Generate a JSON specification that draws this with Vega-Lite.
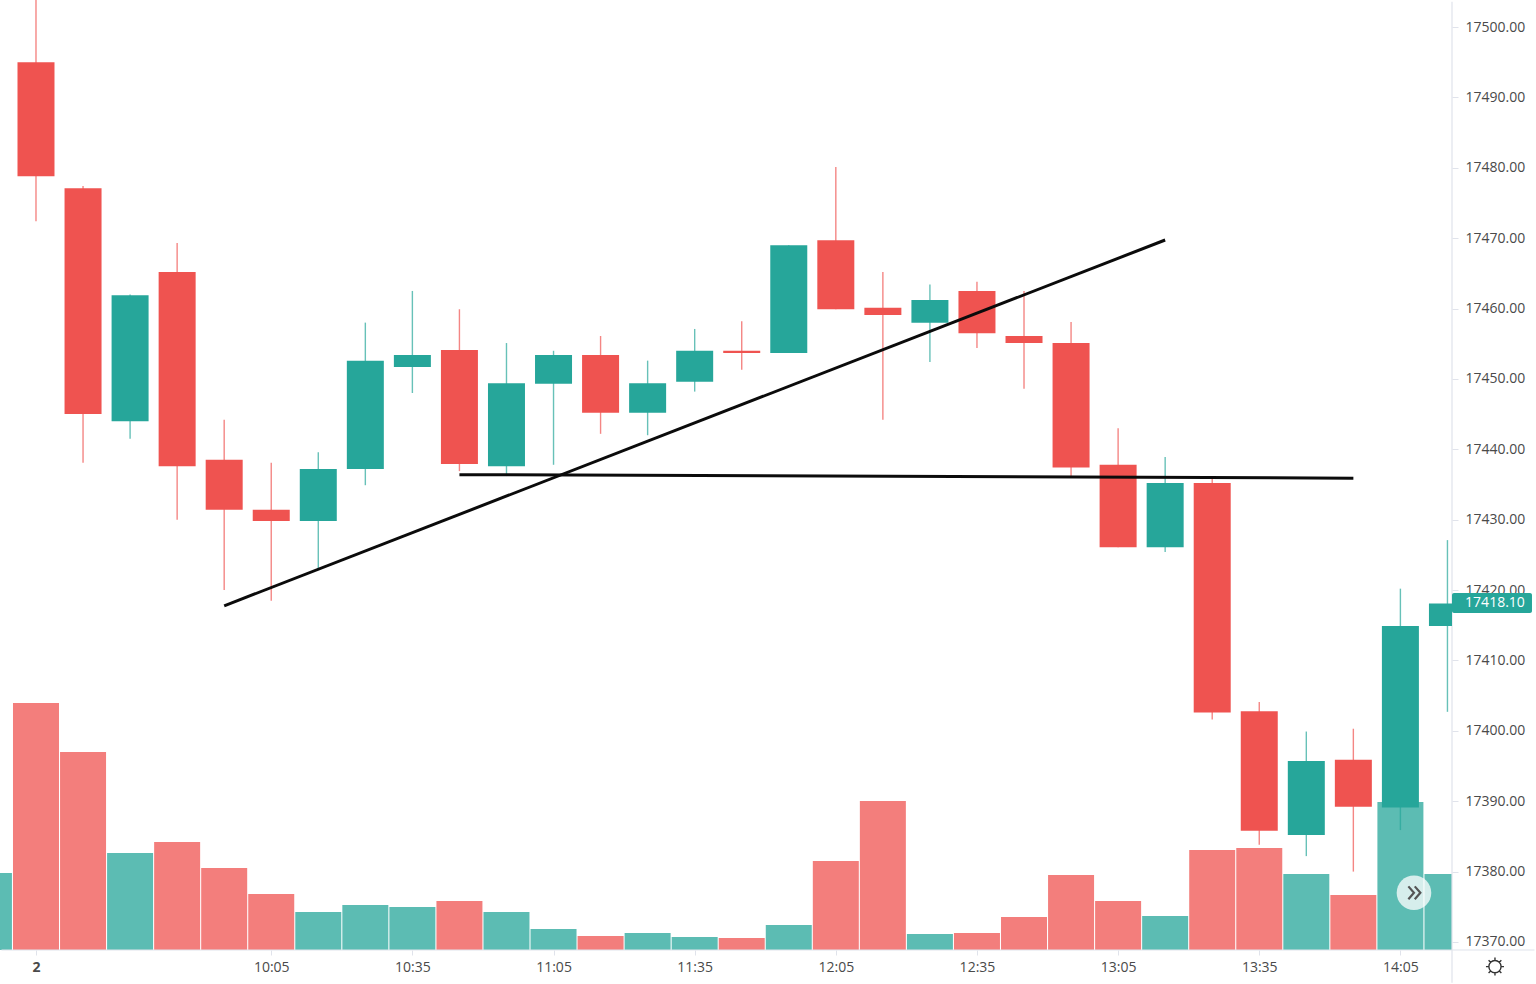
{
  "$schema": "https://vega.github.io/schema/vega-lite/v6.json",
  "width": 1452,
  "height": 950,
  "padding": 0,
  "background": "white",
  "view": {"stroke": null},
  "config": {"font": "Open Sans"},
  "datasets": {
    "candles": [
      {"time": "2021-02-02T09:15:00Z", "open": 17495.0, "close": 17478.8, "high": 17505.0, "low": 17472.4, "dir": "down"},
      {"time": "2021-02-02T09:25:00Z", "open": 17477.1, "close": 17445.0, "high": 17477.4, "low": 17438.1, "dir": "down"},
      {"time": "2021-02-02T09:35:00Z", "open": 17444.0, "close": 17461.9, "high": 17462.0, "low": 17441.5, "dir": "up"},
      {"time": "2021-02-02T09:45:00Z", "open": 17465.2, "close": 17437.6, "high": 17469.3, "low": 17430.0, "dir": "down"},
      {"time": "2021-02-02T09:55:00Z", "open": 17438.5, "close": 17431.4, "high": 17444.2, "low": 17420.0, "dir": "down"},
      {"time": "2021-02-02T10:05:00Z", "open": 17431.4, "close": 17429.8, "high": 17438.1, "low": 17418.5, "dir": "down"},
      {"time": "2021-02-02T10:15:00Z", "open": 17429.8, "close": 17437.2, "high": 17439.6, "low": 17422.9, "dir": "up"},
      {"time": "2021-02-02T10:25:00Z", "open": 17437.2, "close": 17452.6, "high": 17458.0, "low": 17434.9, "dir": "up"},
      {"time": "2021-02-02T10:35:00Z", "open": 17451.7, "close": 17453.4, "high": 17462.5, "low": 17448.0, "dir": "up"},
      {"time": "2021-02-02T10:45:00Z", "open": 17454.1, "close": 17437.9, "high": 17459.9, "low": 17436.9, "dir": "down"},
      {"time": "2021-02-02T10:55:00Z", "open": 17437.6, "close": 17449.4, "high": 17455.1, "low": 17436.2, "dir": "up"},
      {"time": "2021-02-02T11:05:00Z", "open": 17449.3, "close": 17453.4, "high": 17454.0, "low": 17437.8, "dir": "up"},
      {"time": "2021-02-02T11:15:00Z", "open": 17453.4, "close": 17445.2, "high": 17456.1, "low": 17442.2, "dir": "down"},
      {"time": "2021-02-02T11:25:00Z", "open": 17445.2, "close": 17449.4, "high": 17452.6, "low": 17442.0, "dir": "up"},
      {"time": "2021-02-02T11:35:00Z", "open": 17449.6, "close": 17454.0, "high": 17457.1, "low": 17448.2, "dir": "up"},
      {"time": "2021-02-02T11:45:00Z", "open": 17454.0, "close": 17453.7, "high": 17458.2, "low": 17451.3, "dir": "down"},
      {"time": "2021-02-02T11:55:00Z", "open": 17453.7, "close": 17469.0, "high": 17469.0, "low": 17453.7, "dir": "up"},
      {"time": "2021-02-02T12:05:00Z", "open": 17469.7, "close": 17459.9, "high": 17480.1, "low": 17459.9, "dir": "down"},
      {"time": "2021-02-02T12:15:00Z", "open": 17460.1, "close": 17459.1, "high": 17465.2, "low": 17444.2, "dir": "down"},
      {"time": "2021-02-02T12:25:00Z", "open": 17458.0, "close": 17461.2, "high": 17463.4, "low": 17452.4, "dir": "up"},
      {"time": "2021-02-02T12:35:00Z", "open": 17462.5, "close": 17456.5, "high": 17463.8, "low": 17454.4, "dir": "down"},
      {"time": "2021-02-02T12:45:00Z", "open": 17456.1, "close": 17455.1, "high": 17462.5, "low": 17448.6, "dir": "down"},
      {"time": "2021-02-02T12:55:00Z", "open": 17455.1, "close": 17437.4, "high": 17458.1, "low": 17436.2, "dir": "down"},
      {"time": "2021-02-02T13:05:00Z", "open": 17437.8, "close": 17426.1, "high": 17443.0, "low": 17426.1, "dir": "down"},
      {"time": "2021-02-02T13:15:00Z", "open": 17426.1, "close": 17435.2, "high": 17438.9, "low": 17425.4, "dir": "up"},
      {"time": "2021-02-02T13:25:00Z", "open": 17435.2, "close": 17402.6, "high": 17436.1, "low": 17401.6, "dir": "down"},
      {"time": "2021-02-02T13:35:00Z", "open": 17402.8, "close": 17385.8, "high": 17404.1, "low": 17383.8, "dir": "down"},
      {"time": "2021-02-02T13:45:00Z", "open": 17385.2, "close": 17395.7, "high": 17399.9, "low": 17382.2, "dir": "up"},
      {"time": "2021-02-02T13:55:00Z", "open": 17395.9, "close": 17389.2, "high": 17400.3, "low": 17380.0, "dir": "down"},
      {"time": "2021-02-02T14:05:00Z", "open": 17389.1, "close": 17414.9, "high": 17420.2, "low": 17385.9, "dir": "up"},
      {"time": "2021-02-02T14:15:00Z", "open": 17414.9, "close": 17418.1, "high": 17427.1, "low": 17402.7, "dir": "up"}
    ],
    "volume": [
      {"time": "2021-02-02T09:05:00Z", "volume": 77, "dir": "up"},
      {"time": "2021-02-02T09:15:00Z", "volume": 247, "dir": "down"},
      {"time": "2021-02-02T09:25:00Z", "volume": 198, "dir": "down"},
      {"time": "2021-02-02T09:35:00Z", "volume": 97, "dir": "up"},
      {"time": "2021-02-02T09:45:00Z", "volume": 108, "dir": "down"},
      {"time": "2021-02-02T09:55:00Z", "volume": 82, "dir": "down"},
      {"time": "2021-02-02T10:05:00Z", "volume": 56, "dir": "down"},
      {"time": "2021-02-02T10:15:00Z", "volume": 38, "dir": "up"},
      {"time": "2021-02-02T10:25:00Z", "volume": 45, "dir": "up"},
      {"time": "2021-02-02T10:35:00Z", "volume": 43, "dir": "up"},
      {"time": "2021-02-02T10:45:00Z", "volume": 49, "dir": "down"},
      {"time": "2021-02-02T10:55:00Z", "volume": 38, "dir": "up"},
      {"time": "2021-02-02T11:05:00Z", "volume": 21, "dir": "up"},
      {"time": "2021-02-02T11:15:00Z", "volume": 14, "dir": "down"},
      {"time": "2021-02-02T11:25:00Z", "volume": 17, "dir": "up"},
      {"time": "2021-02-02T11:35:00Z", "volume": 13, "dir": "up"},
      {"time": "2021-02-02T11:45:00Z", "volume": 12, "dir": "down"},
      {"time": "2021-02-02T11:55:00Z", "volume": 25, "dir": "up"},
      {"time": "2021-02-02T12:05:00Z", "volume": 89, "dir": "down"},
      {"time": "2021-02-02T12:15:00Z", "volume": 149, "dir": "down"},
      {"time": "2021-02-02T12:25:00Z", "volume": 16, "dir": "up"},
      {"time": "2021-02-02T12:35:00Z", "volume": 17, "dir": "down"},
      {"time": "2021-02-02T12:45:00Z", "volume": 33, "dir": "down"},
      {"time": "2021-02-02T12:55:00Z", "volume": 75, "dir": "down"},
      {"time": "2021-02-02T13:05:00Z", "volume": 49, "dir": "down"},
      {"time": "2021-02-02T13:15:00Z", "volume": 34, "dir": "up"},
      {"time": "2021-02-02T13:25:00Z", "volume": 100, "dir": "down"},
      {"time": "2021-02-02T13:35:00Z", "volume": 102, "dir": "down"},
      {"time": "2021-02-02T13:45:00Z", "volume": 76, "dir": "up"},
      {"time": "2021-02-02T13:55:00Z", "volume": 55, "dir": "down"},
      {"time": "2021-02-02T14:05:00Z", "volume": 148, "dir": "up"},
      {"time": "2021-02-02T14:15:00Z", "volume": 76, "dir": "up"}
    ],
    "drawn": [
      {"time": "2021-02-02T09:55:00Z", "time2": "2021-02-02T13:15:00Z", "price": 17417.76, "price2": 17469.74},
      {"time": "2021-02-02T10:45:00Z", "time2": "2021-02-02T13:55:00Z", "price": 17436.4, "price2": 17435.9}
    ],
    "frame": [
      {"time": "2021-02-02T14:15:58Z", "time2": "2021-02-02T14:15:58Z", "price": 17503.6, "price2": 17364.2},
      {"time": "2021-02-02T09:07:40Z", "time2": "2021-02-02T14:33:30Z", "price": 17368.86, "price2": 17368.86}
    ]
  },
  "encoding": {
    "x": {
      "field": "time",
      "type": "temporal",
      "title": null,
      "scale": {
        "type": "utc",
        "nice": false,
        "padding": 0,
        "domain": [
          {"utc": true, "year": 2021, "month": 2, "date": 2, "hours": 9, "minutes": 7, "seconds": 21},
          {"utc": true, "year": 2021, "month": 2, "date": 2, "hours": 14, "minutes": 15, "seconds": 58}
        ]
      },
      "axis": {
        "values": [
          {"utc": true, "year": 2021, "month": 2, "date": 2, "hours": 9, "minutes": 15},
          {"utc": true, "year": 2021, "month": 2, "date": 2, "hours": 10, "minutes": 5},
          {"utc": true, "year": 2021, "month": 2, "date": 2, "hours": 10, "minutes": 35},
          {"utc": true, "year": 2021, "month": 2, "date": 2, "hours": 11, "minutes": 5},
          {"utc": true, "year": 2021, "month": 2, "date": 2, "hours": 11, "minutes": 35},
          {"utc": true, "year": 2021, "month": 2, "date": 2, "hours": 12, "minutes": 5},
          {"utc": true, "year": 2021, "month": 2, "date": 2, "hours": 12, "minutes": 35},
          {"utc": true, "year": 2021, "month": 2, "date": 2, "hours": 13, "minutes": 5},
          {"utc": true, "year": 2021, "month": 2, "date": 2, "hours": 13, "minutes": 35},
          {"utc": true, "year": 2021, "month": 2, "date": 2, "hours": 14, "minutes": 5}
        ],
        "labelExpr": "utchours(datum.value) == 9 ? '2' : utcFormat(datum.value, '%H:%M')",
        "labelFontWeight": {"expr": "utchours(datum.value) == 9 ? 'bold' : 'normal'"},
        "labelColor": "#4a4a4a",
        "labelFontSize": 14,
        "labelPadding": 5,
        "labelFlush": false,
        "labelOverlap": false,
        "grid": false,
        "domain": false,
        "tickColor": "#e0e3eb",
        "tickSize": 5
      }
    }
  },
  "layer": [
    {
      "data": {"name": "volume"},
      "mark": {"type": "bar", "width": 46, "opacity": 0.75, "clip": true},
      "encoding": {
        "y": {
          "field": "volume",
          "type": "quantitative",
          "stack": null,
          "axis": null,
          "scale": {"domain": [0, 950], "nice": false}
        },
        "color": {
          "field": "dir",
          "type": "nominal",
          "legend": null,
          "scale": {"domain": ["up", "down"], "range": ["#26a69a", "#ef5350"]}
        }
      }
    },
    {
      "layer": [
        {
          "data": {"name": "frame"},
          "mark": {"type": "rule", "color": "#e0e3eb", "strokeWidth": 1.2},
          "encoding": {
            "x2": {"field": "time2"},
            "y": {
              "field": "price",
              "type": "quantitative",
              "title": null,
              "scale": {"domain": [17368.86, 17503.84], "nice": false, "zero": false},
              "axis": {
                "orient": "right",
                "values": [17370, 17380, 17390, 17400, 17410, 17420, 17430, 17440, 17450, 17460, 17470, 17480, 17490, 17500],
                "format": ".2f",
                "grid": false,
                "domain": false,
                "tickColor": "#e0e3eb",
                "tickSize": 6,
                "labelColor": "#4a4a4a",
                "labelFontSize": 14,
                "labelPadding": 7
              }
            },
            "y2": {"field": "price2"}
          }
        },
        {
          "data": {"name": "candles"},
          "mark": {"type": "rule", "strokeWidth": 1.4, "opacity": 0.7, "clip": true},
          "encoding": {
            "y": {"field": "high", "type": "quantitative"},
            "y2": {"field": "low"},
            "color": {"field": "dir", "type": "nominal", "legend": null}
          }
        },
        {
          "data": {"name": "candles"},
          "mark": {"type": "bar", "width": 37, "clip": true},
          "encoding": {
            "y": {"field": "open", "type": "quantitative", "stack": null},
            "y2": {"field": "close"},
            "color": {"field": "dir", "type": "nominal", "legend": null}
          }
        },
        {
          "data": {"name": "drawn"},
          "mark": {"type": "rule", "color": "#0b0b0b", "strokeWidth": 3},
          "encoding": {
            "x2": {"field": "time2"},
            "y": {"field": "price", "type": "quantitative"},
            "y2": {"field": "price2"}
          }
        },
        {
          "data": {"values": [{"time": "2021-02-02T14:15:58Z", "time2": "2021-02-02T14:32:58Z", "price": 17419.6, "price2": 17416.76}]},
          "mark": {"type": "rect", "color": "#26a69a", "cornerRadius": 2},
          "encoding": {
            "x2": {"field": "time2"},
            "y": {"field": "price", "type": "quantitative"},
            "y2": {"field": "price2"}
          }
        },
        {
          "data": {"values": [{"time": "2021-02-02T14:25:06Z", "price": 17418.1, "label": "17418.10"}]},
          "mark": {"type": "text", "color": "white", "fontSize": 14, "align": "center", "baseline": "middle"},
          "encoding": {
            "y": {"field": "price", "type": "quantitative"},
            "text": {"field": "label"}
          }
        },
        {
          "data": {"values": [{"time": "2021-02-02T14:07:53Z", "price": 17376.99}]},
          "mark": {"type": "point", "shape": "circle", "filled": true, "size": 1200, "color": "white", "opacity": 0.75},
          "encoding": {"y": {"field": "price", "type": "quantitative"}}
        },
        {
          "data": {"values": [{"time": "2021-02-02T14:07:53Z", "price": 17376.99}]},
          "mark": {
            "type": "point",
            "shape": "M-0.7,-0.8L0,0L-0.7,0.8M0.1,-0.8L0.8,0L0.1,0.8",
            "filled": false,
            "size": 256,
            "color": "#555555",
            "strokeWidth": 2.2,
            "opacity": 1
          },
          "encoding": {"y": {"field": "price", "type": "quantitative"}}
        },
        {
          "data": {"values": [{"time": "2021-02-02T14:25:06Z", "price": 17366.5}]},
          "mark": {
            "type": "point",
            "shape": "M0.68,0A0.68,0.68,0,1,1,-0.68,0A0.68,0.68,0,1,1,0.68,0ZM0,-0.68L0,-1M0,0.68L0,1M0.68,0L1,0M-0.68,0L-1,0M0.48,-0.48L0.71,-0.71M-0.48,-0.48L-0.71,-0.71M0.48,0.48L0.71,0.71M-0.48,0.48L-0.71,0.71",
            "filled": false,
            "size": 324,
            "color": "#333333",
            "strokeWidth": 1.4,
            "opacity": 1
          },
          "encoding": {"y": {"field": "price", "type": "quantitative"}}
        }
      ]
    }
  ],
  "resolve": {"scale": {"y": "independent"}}
}
